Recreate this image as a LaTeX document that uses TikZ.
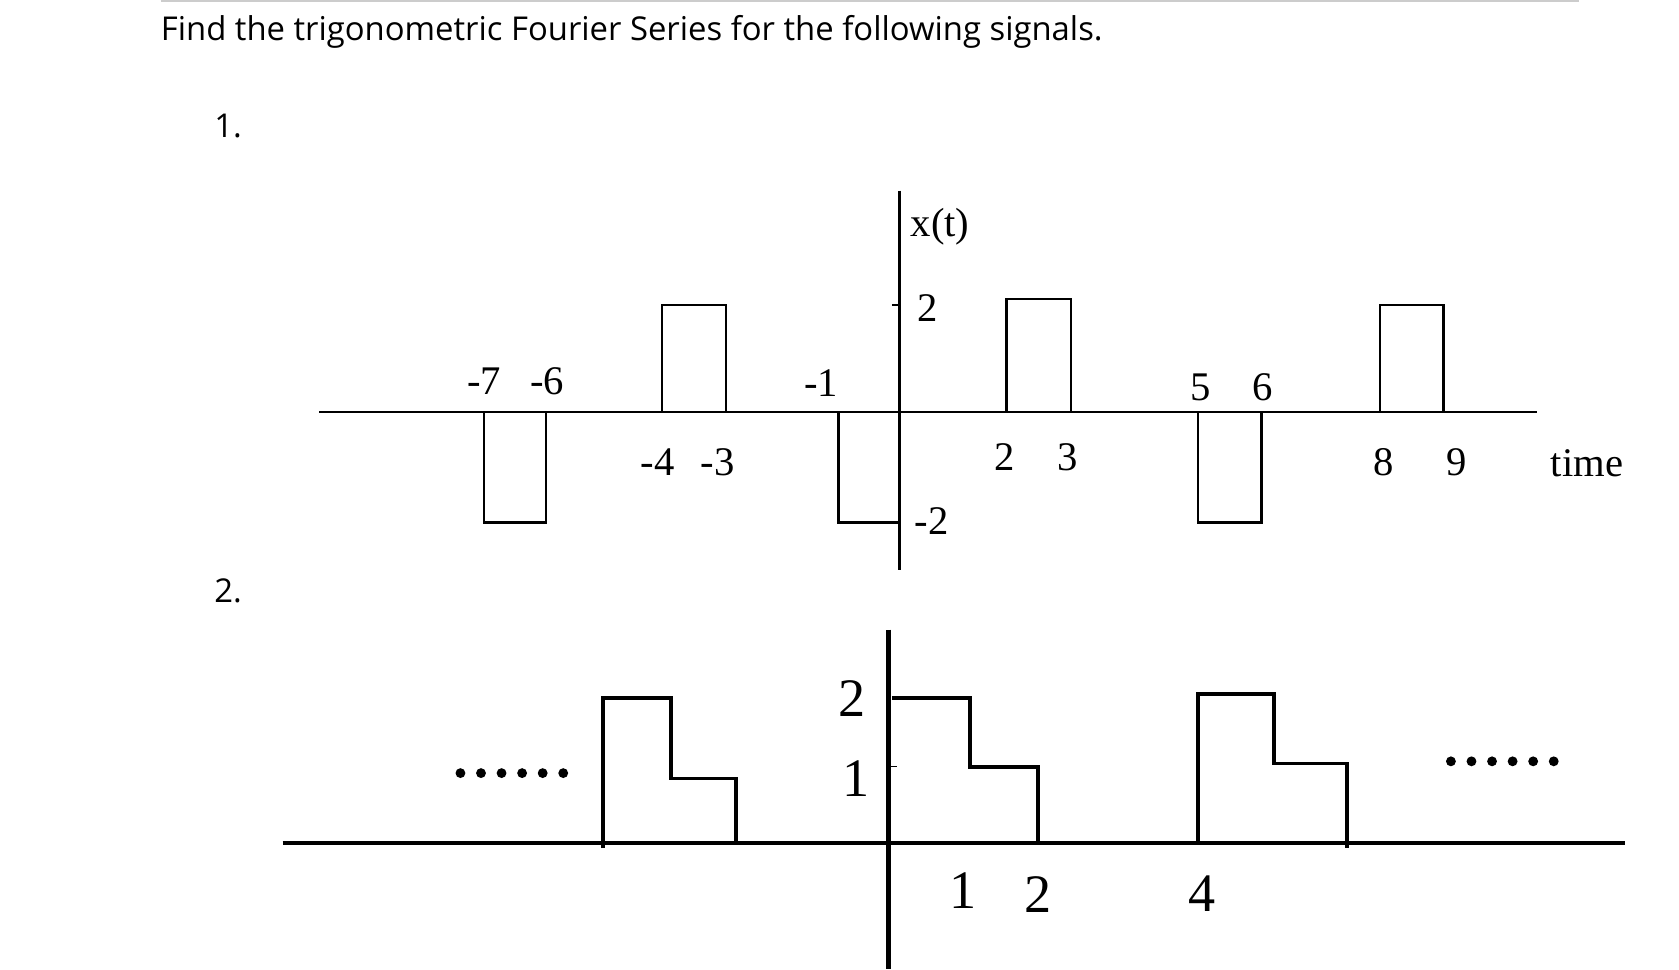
\documentclass[tikz,border=0pt]{standalone}
\usepackage{fontspec}
\setmainfont{Liberation Serif}
\newfontfamily\titlefont{Open Sans}
\begin{document}
\begin{tikzpicture}[x=0.025cm,y=-0.025cm,
  lab/.style={font=\fontsize{27}{30}\selectfont,inner sep=0pt},
  labb/.style={font=\fontsize{36}{40}\selectfont,inner sep=0pt},
  ttl/.style={font=\titlefont\fontsize{21.8}{26}\selectfont,inner sep=0pt,anchor=base west},
  thin/.style={line width=1.6pt},
  thick2/.style={line width=2.6pt}]
\useasboundingbox (0,0) rectangle (1568,905);
\draw[gray!40,line width=0.8pt] (150,1) -- (1475,1);
\node[ttl] (title) at (150,38) {Find the trigonometric Fourier Series for the following signals.};
\node[ttl] (n1) at (200,128) {1.};
\node[ttl] (n2) at (200,563) {2.};
% plot 1
\draw[thin] (298,385) -- (1435,385);
\draw[thin] (840,178) -- (840,532);
\draw[thin] (833,285) -- (840,285);
\draw[thin] (452,385) -- (452,488) -- (510,488) -- (510,385);
\draw[thin] (618,385) -- (618,285) -- (678,285) -- (678,385);
\draw[thin] (783,385) -- (783,488) -- (840,488);
\draw[thin] (940,385) -- (940,279) -- (1000,279) -- (1000,385);
\draw[thin] (1119,385) -- (1119,488) -- (1178,488) -- (1178,385);
\draw[thin] (1289,385) -- (1289,285) -- (1348,285) -- (1348,385);
\node[lab] (xt) at (878,212) {x(t)};
\node[lab] (l2) at (866,288) {2};
\node[lab] (lm2) at (870,487) {-2};
\node[lab] (lm7) at (452,356) {-7};
\node[lab] (lm6) at (511,356) {-6};
\node[lab] (lm1) at (767,358) {-1};
\node[lab] (l5) at (1121,362) {5};
\node[lab] (l6) at (1179,362) {6};
\node[lab] (lm4) at (614,432) {-4};
\node[lab] (lm3) at (670,432) {-3};
\node[lab] (l2b) at (938,427) {2};
\node[lab] (l3) at (997,427) {3};
\node[lab] (l8) at (1292,432) {8};
\node[lab] (l9) at (1360,432) {9};
\node[lab] (time) at (1482,433) {time};
% plot 2
\draw[thick2] (264,787) -- (1518,787);
\draw[line width=3.2pt] (830,588) -- (830,905);
\draw[thick2] (563,792) -- (563,652) -- (627,652) -- (627,727) -- (687,727) -- (687,787);
\draw[thick2] (833,652) -- (906,652) -- (906,716) -- (969,716) -- (969,787);
\draw[thick2] (1119,787) -- (1119,648) -- (1190,648) -- (1190,713) -- (1258,713) -- (1258,792);
\draw[line width=1pt] (830,716) -- (838,716);
\foreach \i in {0,...,5} {
  \fill (430+\i*19.2,722) circle (4.6);
  \fill (1355+\i*19.2,711) circle (4.6);
}
\node[labb] (m2) at (796,652) {2};
\node[labb] (m1) at (799,727) {1};
\node[labb] (t1) at (899,832) {1};
\node[labb] (t2) at (969,835) {2};
\node[labb] (t4) at (1123,835) {4};
\end{tikzpicture}
\end{document}
